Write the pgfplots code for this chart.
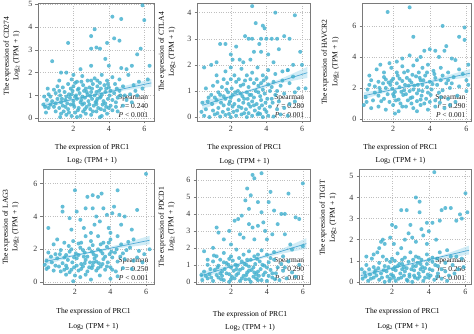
\documentclass[border=0pt]{standalone}
\usepackage{pgfplots}
\usepackage{pgfplotstable}
\pgfplotsset{compat=1.18}
\usepackage{fontspec}
\setmainfont{Liberation Serif}
\definecolor{pt}{HTML}{42B0CE}
\definecolor{ln}{HTML}{4FA9D4}
\definecolor{bd}{HTML}{A9DCEF}
\definecolor{fr}{HTML}{7A7A7A}

\pgfplotstableread{
x y
0.4 0.5
0.6 0.45
1.0 0.3
1.3 0.2
1.6 0.15
1.9 0.1
2.1 0.25
2.4 0.1
2.7 0.2
3.0 0.15
3.3 0.3
3.6 0.1
3.9 0.2
4.2 0.35
4.5 0.3
2.2 0.05
3.5 0.05
0.3 0.6
0.7 0.6
0.9 0.5
1.2 0.45
1.4 0.55
1.7 0.4
1.85 0.6
2.05 0.5
2.3 0.45
2.5 0.6
2.75 0.5
2.95 0.4
3.15 0.55
3.4 0.45
3.65 0.6
3.85 0.5
4.1 0.55
4.4 0.5
4.8 0.55
0.5 0.8
0.8 0.75
1.1 0.85
1.3 0.7
1.55 0.8
1.8 0.9
2.0 0.75
2.2 0.85
2.45 0.8
2.65 0.9
2.85 0.75
3.05 0.85
3.25 0.7
3.5 0.9
3.7 0.75
3.95 0.85
4.2 0.8
4.5 0.9
5.0 0.8
0.6 1.05
1.0 1.1
1.25 1.0
1.5 1.15
1.75 1.05
1.95 1.2
2.15 1.0
2.35 1.1
2.6 1.2
2.8 1.05
3.0 1.15
3.2 1.0
3.45 1.2
3.6 1.05
3.8 1.15
4.05 1.0
4.3 1.1
4.6 1.2
5.2 1.05
5.6 1.0
1.1 1.4
1.4 1.35
1.7 1.5
2.0 1.4
2.3 1.3
2.55 1.45
2.9 1.35
3.1 1.5
3.35 1.4
3.55 1.3
3.75 1.45
4.0 1.35
4.35 1.5
4.8 1.4
5.4 1.45
5.9 1.3
1.2 1.65
1.9 1.7
2.2 1.6
2.5 1.85
2.8 1.65
3.2 1.75
3.6 1.9
3.9 1.65
4.2 1.8
4.6 1.7
5.1 1.9
5.7 1.6
6.2 1.7
2.0 1.9
0.8 2.5
1.7 3.3
3.0 3.6
3.2 3.9
3.0 3.05
3.3 3.1
3.5 3.05
3.9 3.3
4.2 4.45
4.3 3.5
4.7 4.35
4.6 3.4
5.9 4.95
6.0 4.3
5.6 2.8
5.8 3.05
6.3 2.3
5.3 2.3
5.0 2.15
4.7 2.2
1.3 2.0
1.6 2.0
2.4 2.15
3.8 2.6
4.0 2.3
3.0 2.3
1.45 0.3
2.55 0.3
3.75 0.35
1.65 0.65
2.6 0.65
3.3 0.62
2.1 0.95
2.95 0.98
3.35 0.85
1.85 1.3
2.7 1.3
3.5 1.55
0.45 0.25
0.35 0.95
1.55 0.5
1.75 0.25
2.0 0.6
2.25 0.35
2.4 0.7
2.65 0.4
2.9 0.6
3.1 0.3
3.3 0.75
3.55 0.4
3.8 0.65
4.0 0.45
1.6 0.95
1.9 1.05
2.25 1.25
2.5 0.95
2.75 1.15
3.05 1.3
3.3 1.15
3.55 0.95
3.85 1.3
4.1 1.2
4.4 0.7
4.65 1.0
1.35 0.85
1.0 0.65
0.7 0.95
0.55 1.3
0.9 1.25
1.2 1.2
2.1 1.55
2.45 1.6
3.0 1.65
3.35 1.65
3.95 1.5
4.45 1.3
5.3 0.7
5.5 1.2
4.9 1.0
1.25 0.05
}\dA

\pgfplotstableread{
x y
0.5 0.05
0.8 0.0
1.1 0.1
1.4 0.02
1.7 0.08
2.0 0.0
2.3 0.05
2.6 0.1
2.9 0.0
3.2 0.05
3.5 0.1
3.8 0.0
4.1 0.05
4.4 0.02
4.8 0.1
5.2 0.05
1.9 0.12
3.0 0.15
3.65 0.12
0.6 0.3
1.0 0.25
1.3 0.35
1.55 0.2
1.85 0.3
2.1 0.4
2.35 0.25
2.6 0.35
2.85 0.3
3.1 0.4
3.35 0.25
3.6 0.35
3.9 0.3
4.2 0.4
4.6 0.3
5.0 0.35
0.4 0.55
0.7 0.6
0.95 0.5
1.2 0.65
1.45 0.55
1.7 0.7
1.95 0.6
2.2 0.5
2.45 0.65
2.7 0.55
2.95 0.7
3.2 0.6
3.45 0.5
3.7 0.65
3.95 0.55
4.3 0.7
4.7 0.6
5.3 0.5
0.9 0.85
1.3 0.95
1.6 0.8
1.85 0.95
2.1 0.85
2.4 1.0
2.65 0.8
2.9 0.95
3.15 0.85
3.4 1.0
3.65 0.8
3.9 0.9
4.2 1.0
4.5 0.85
5.0 0.9
5.6 0.95
1.0 1.2
1.5 1.15
1.8 1.3
2.05 1.1
2.3 1.35
2.55 1.2
2.8 1.4
3.0 1.15
3.3 1.3
3.55 1.2
3.85 1.4
4.1 1.25
4.4 1.35
4.8 1.2
5.3 1.3
5.8 1.1
6.2 1.1
1.2 1.6
1.7 1.75
2.2 1.6
2.6 1.85
2.9 1.6
3.2 1.7
3.5 1.9
3.8 1.6
4.1 1.8
4.5 1.65
4.9 1.75
5.2 1.8
5.5 1.55
2.0 1.9
3.2 4.25
4.5 4.0
5.6 3.9
4.0 3.0
2.8 3.1
3.0 3.0
3.2 3.0
3.8 3.5
3.9 3.4
4.3 3.0
4.6 3.0
5.0 3.1
5.3 3.0
1.7 2.8
1.4 2.8
2.0 2.4
2.1 2.2
0.5 1.9
0.9 2.0
1.2 2.1
2.5 2.2
2.7 2.1
3.1 2.2
3.7 2.5
4.1 2.4
4.7 2.6
5.5 2.0
5.9 2.5
6.0 2.0
5.2 1.8
3.6 2.8
3.4 3.6
3.7 3.0
2.3 2.7
4.4 2.1
3.3 2.5
1.25 0.15
1.6 0.45
1.9 0.5
2.15 0.2
2.45 0.4
2.75 0.15
3.0 0.5
3.3 0.45
3.55 0.15
3.75 0.45
4.0 0.2
4.35 0.55
1.1 0.75
1.4 0.85
1.75 1.05
2.0 0.75
2.25 0.95
2.55 0.9
2.75 0.7
3.05 0.85
3.3 0.75
3.55 0.95
3.8 1.05
4.05 0.7
4.6 1.0
0.75 0.75
0.6 1.1
1.25 1.35
1.6 1.45
2.0 1.45
2.45 1.45
2.7 1.25
3.1 1.45
3.45 1.45
3.7 1.3
4.0 1.5
4.3 1.15
0.35 0.2
5.6 0.6
4.9 1.4
}\dB

\pgfplotstableread{
x y
0.4 0.9
0.8 0.7
1.2 0.8
1.6 0.6
2.0 0.9
2.3 0.5
2.7 0.8
3.1 0.7
3.5 0.9
3.9 0.6
4.3 0.8
4.8 0.7
5.1 0.9
2.1 0.35
0.5 1.4
0.9 1.2
1.2 1.5
1.5 1.3
1.8 1.1
2.05 1.45
2.3 1.25
2.55 1.55
2.8 1.2
3.05 1.4
3.3 1.15
3.55 1.5
3.8 1.3
4.05 1.55
4.3 1.2
4.6 1.4
5.0 1.3
5.5 1.5
0.6 1.9
1.0 2.1
1.3 1.8
1.6 2.0
1.85 2.2
2.1 1.75
2.35 2.05
2.6 1.85
2.85 2.15
3.1 1.9
3.35 2.2
3.6 1.8
3.85 2.05
4.1 1.9
4.4 2.2
4.7 1.85
5.1 2.0
5.6 2.1
6.0 1.8
0.8 2.5
1.2 2.4
1.5 2.7
1.75 2.35
2.0 2.6
2.25 2.8
2.5 2.45
2.75 2.65
3.0 2.35
3.25 2.75
3.5 2.5
3.75 2.8
4.0 2.4
4.3 2.65
4.6 2.5
4.9 2.3
5.3 2.7
6.0 2.5
5.0 2.5
1.1 3.2
1.5 3.0
1.9 3.3
2.2 3.0
2.5 3.4
2.8 3.1
3.1 3.45
3.4 3.0
3.6 3.3
3.9 3.5
4.2 3.1
4.6 3.3
5.0 3.0
5.6 3.2
6.1 3.5
0.7 2.8
1.7 6.9
2.9 7.2
3.1 5.3
4.7 6.0
5.9 5.9
5.6 5.3
5.9 5.1
4.0 4.5
4.3 4.4
4.9 4.7
4.5 4.0
5.2 3.9
3.7 4.4
2.5 3.9
1.8 3.6
3.3 3.8
2.9 4.1
3.5 4.0
4.8 4.4
5.4 3.8
2.2 3.7
1.3 3.5
2.0 1.6
2.7 1.6
3.3 1.65
1.9 2.45
2.9 2.5
3.6 2.2
2.4 1.0
3.0 1.0
3.7 1.0
1.0 1.7
1.35 1.15
1.45 2.3
1.7 1.6
1.95 1.95
2.2 2.3
2.45 1.75
2.65 2.2
2.9 1.8
3.15 2.15
3.4 1.85
3.65 2.5
3.9 1.7
4.15 2.25
4.5 1.7
1.6 2.55
2.35 2.6
2.6 3.0
3.05 2.85
3.45 2.65
3.85 3.0
4.25 2.9
4.7 2.8
5.2 2.3
5.4 1.1
0.55 1.1
0.7 2.2
1.25 2.0
2.15 1.2
2.5 0.8
2.95 1.35
3.5 1.25
4.0 1.1
4.55 1.05
3.3 0.5
5.8 2.9
6.1 2.2
}\dC

\pgfplotstableread{
x y
1.9 0.05
2.3 0.3
2.9 0.15
3.4 0.4
4.0 0.2
1.5 0.45
2.6 0.45
4.4 0.35
0.4 0.8
0.5 0.9
0.8 0.7
1.1 0.95
1.4 0.75
1.7 0.6
1.95 0.9
2.2 0.7
2.45 0.95
2.7 0.65
2.95 0.85
3.2 0.7
3.45 0.95
3.7 0.75
4.0 0.9
4.3 0.65
4.7 0.85
5.2 0.8
0.4 1.3
0.7 1.2
1.0 1.45
1.3 1.15
1.6 1.35
1.85 1.2
2.1 1.45
2.35 1.1
2.6 1.35
2.85 1.2
3.1 1.45
3.35 1.15
3.6 1.4
3.85 1.2
4.1 1.5
4.4 1.25
4.8 1.4
5.3 1.3
5.8 1.2
0.5 1.8
0.9 1.7
1.2 1.95
1.5 1.65
1.8 2.0
2.05 1.75
2.3 2.1
2.55 1.8
2.8 2.05
3.05 1.7
3.3 2.0
3.55 1.75
3.8 2.15
4.05 1.85
4.35 2.0
4.7 1.75
5.1 2.1
5.6 1.9
6.2 2.0
0.8 2.3
1.0 2.6
1.4 2.4
1.9 2.5
2.6 2.8
3.3 2.8
2.2 2.35
2.9 2.5
3.6 2.4
4.0 2.6
4.4 2.8
5.0 2.45
5.3 2.6
2.9 3.0
4.0 3.0
6.0 6.6
2.0 5.6
3.0 5.3
3.3 5.2
3.5 5.4
4.4 5.6
2.7 5.2
1.3 4.6
1.3 4.3
1.7 3.9
2.3 3.8
3.0 4.5
3.6 4.5
3.8 4.1
4.1 4.2
4.5 4.1
4.8 4.0
5.5 4.4
3.4 3.7
2.5 3.3
0.5 3.3
1.8 3.2
3.1 3.5
3.9 3.3
4.6 3.5
5.2 3.2
2.1 4.3
2.6 4.5
3.2 4.0
4.2 4.6
1.5 1.0
2.5 1.55
3.2 1.25
2.0 0.4
3.0 1.0
1.2 0.65
1.55 0.85
1.8 0.75
2.1 1.0
2.35 0.8
2.55 1.15
2.8 0.9
3.05 1.2
3.3 0.85
3.55 1.1
3.8 0.95
4.1 0.75
0.9 1.0
1.15 1.7
1.4 1.5
1.7 1.85
1.95 1.5
2.2 1.65
2.45 1.95
2.7 1.55
2.95 1.85
3.2 1.6
3.45 1.9
3.7 1.55
3.95 1.7
4.25 1.8
4.55 1.55
4.9 1.95
0.65 1.55
0.3 1.05
1.65 2.2
2.35 2.4
3.0 2.25
3.45 2.3
3.9 2.4
4.6 2.3
5.5 1.5
5.9 1.7
}\dD

\pgfplotstableread{
x y
0.4 0.1
0.7 0.2
1.0 0.05
1.3 0.25
1.6 0.1
1.9 0.0
2.2 0.2
2.5 0.05
2.8 0.15
3.1 0.0
3.4 0.2
3.7 0.1
4.0 0.05
4.3 0.25
4.7 0.1
5.1 0.2
2.05 0.3
3.25 0.3
0.5 0.6
0.8 0.45
1.1 0.7
1.4 0.5
1.65 0.75
1.9 0.45
2.15 0.65
2.4 0.5
2.65 0.8
2.9 0.55
3.15 0.7
3.4 0.45
3.65 0.75
3.9 0.55
4.2 0.7
4.5 0.5
4.9 0.65
5.4 0.55
0.7 1.0
1.0 1.2
1.3 0.95
1.6 1.15
1.85 1.0
2.1 1.25
2.35 0.95
2.6 1.2
2.85 1.0
3.1 1.3
3.35 1.05
3.6 1.2
3.85 0.95
4.1 1.15
4.4 1.3
4.8 1.05
5.2 1.2
5.8 1.0
0.7 1.3
0.5 1.8
1.2 1.5
1.6 1.7
2.0 1.5
2.3 1.9
2.7 1.6
3.0 1.8
3.3 1.5
3.7 1.85
4.0 1.6
4.4 1.75
4.9 1.5
5.4 1.9
1.0 2.0
3.5 1.6
3.2 6.3
3.7 6.4
3.3 6.1
2.9 5.5
3.1 5.1
4.2 5.3
5.2 5.2
6.0 5.8
2.8 4.8
3.5 4.7
4.4 4.2
4.8 4.0
5.0 4.0
3.7 4.1
5.6 3.8
5.8 3.7
3.0 3.4
3.2 3.2
3.5 3.3
2.2 3.6
2.4 3.7
1.2 3.2
1.3 2.9
1.9 3.0
3.9 3.0
4.3 2.8
5.0 2.8
2.0 2.2
2.7 2.6
4.0 2.5
5.3 2.2
6.0 2.1
2.5 2.8
3.3 2.5
3.8 3.5
4.6 3.4
2.6 3.9
1.6 2.5
3.0 4.3
4.1 4.7
1.5 0.35
2.7 0.35
3.55 0.35
2.3 0.75
3.0 0.9
0.6 0.35
0.9 0.25
1.2 0.4
1.45 0.15
1.75 0.5
2.0 0.15
2.3 0.4
2.6 0.2
2.85 0.4
3.0 0.15
3.3 0.55
3.5 0.1
3.8 0.4
4.1 0.35
4.45 0.15
0.85 0.75
1.25 0.85
1.5 0.6
1.75 1.1
2.0 0.85
2.25 1.0
2.5 0.7
2.75 1.05
3.0 0.65
3.25 0.85
3.5 0.6
3.75 1.0
4.0 0.85
4.3 0.5
4.6 0.85
1.4 1.3
1.9 1.35
2.45 1.4
2.9 1.3
3.45 1.35
4.2 1.4
5.0 0.85
5.6 0.3
0.35 0.4
1.05 1.55
}\dE

\pgfplotstableread{
x y
0.4 0.15
0.7 0.05
1.0 0.2
1.3 0.1
1.6 0.0
1.9 0.15
2.2 0.05
2.5 0.2
2.8 0.1
3.1 0.0
3.4 0.15
3.7 0.05
4.0 0.2
4.3 0.1
4.7 0.15
5.0 0.05
1.75 0.25
2.95 0.25
0.5 0.45
0.8 0.35
1.1 0.55
1.4 0.4
1.7 0.5
1.95 0.35
2.2 0.55
2.45 0.4
2.7 0.5
2.95 0.35
3.2 0.55
3.45 0.4
3.7 0.5
3.95 0.35
4.2 0.55
4.5 0.4
4.9 0.5
5.4 0.4
0.6 0.8
1.0 0.7
1.3 0.9
1.6 0.75
1.9 0.95
2.15 0.7
2.4 0.85
2.65 0.7
2.9 0.95
3.15 0.75
3.4 0.9
3.65 0.7
3.9 0.85
4.2 0.95
4.5 0.75
4.9 0.9
5.3 0.8
5.9 0.7
0.9 1.1
1.5 1.2
2.0 1.1
2.3 1.35
2.7 1.15
3.0 1.4
3.3 1.2
3.6 1.05
3.9 1.3
4.2 1.15
4.6 1.4
5.2 1.2
5.8 1.1
1.2 1.4
4.3 5.2
6.0 4.2
3.3 4.0
3.5 3.8
2.5 3.4
2.8 3.4
3.5 3.3
4.7 3.4
4.9 3.5
5.2 3.5
5.7 3.2
6.1 3.3
5.5 2.9
3.9 2.8
4.2 2.8
4.6 2.9
2.0 2.7
2.2 2.6
3.6 2.5
1.5 2.0
1.9 2.1
2.9 2.3
3.1 2.1
3.3 1.9
3.9 1.8
0.6 1.2
1.0 1.3
1.3 1.6
1.6 1.8
2.5 1.6
5.0 1.5
5.5 1.2
2.1 1.8
2.7 2.0
3.7 2.2
4.4 2.0
3.0 2.7
4.0 2.4
5.8 3.0
1.4 1.9
2.1 0.2
3.25 0.2
2.55 0.6
3.55 0.6
0.55 0.25
0.85 0.15
1.15 0.3
1.45 0.2
1.85 0.05
2.05 0.3
2.35 0.15
2.65 0.3
2.85 0.05
3.2 0.3
3.5 0.25
3.8 0.2
4.1 0.3
4.45 0.25
0.75 0.6
1.05 0.45
1.25 0.65
1.55 0.55
1.8 0.7
2.05 0.6
2.3 0.75
2.55 0.85
2.8 0.65
3.05 0.6
3.3 0.75
3.55 0.85
3.8 0.65
4.05 0.6
4.35 0.8
4.7 0.6
5.1 0.3
5.6 0.6
1.7 1.05
2.15 1.0
2.55 1.05
3.15 1.05
3.45 1.15
4.0 1.05
4.45 1.1
0.35 0.6
}\dF

\pgfplotsset{
  pan/.style={
    scale only axis, anchor=south west,
    axis line style={fr, line width=0.5bp},
    tick style={fr, line width=0.5bp},
    major tick length=2.5bp,
    tick align=outside, xtick pos=left, ytick pos=left,
    grid=major, major grid style={dotted, line width=0.5bp, black!25},
    tick label style={font=\fontsize{8}{9}\selectfont, text=black!80},
    xticklabel style={yshift=0.5bp},
    yticklabel style={xshift=0.5bp},
    /pgf/number format/assume math mode=true,
    xtick={2,4,6},
  },
  pts/.style={only marks, mark=*, mark size=2.0bp, color=pt,
    mark options={fill=pt, line width=0pt, draw opacity=0, fill opacity=0.82}},
  band/.style={fill=bd, fill opacity=0.55, draw=none},
  reg/.style={ln, line width=0.7bp},
}
\newcommand{\spear}[1]{\node[anchor=south east, align=right, inner sep=0pt,
  font=\fontsize{7.5}{9}\selectfont, text=black!90] at (rel axis cs:0.95,0.025)
  {Spearman\\\textit{r} = #1\\\textit{P} < 0.001};}
\newcommand{\xl}{\fontsize{7.6}{9}\selectfont}
\newcommand{\yl}{\fontsize{7.6}{9}\selectfont}

\begin{document}
\begin{tikzpicture}
\path[use as bounding box] (0bp,0bp) rectangle (474bp,334bp);

% Panel 1 CD274
\begin{axis}[pan, at={(38bp,213bp)}, width=116bp, height=118bp,
  xmin=0.0, xmax=6.55, ymin=-0.12, ymax=5.05, ytick={0,1,2,3,4,5}]
\addplot[pts] table {\dA};
\addplot[band] coordinates {(0.3,0.40) (1.8,0.74) (3.3,1.00) (4.9,1.22) (6.4,1.38) (6.4,1.72) (4.9,1.42) (3.3,1.08) (1.8,0.86) (0.3,0.70)} -- cycle;
\addplot[reg] coordinates {(0.3,0.55) (6.4,1.55)};
\spear{0.240}
\end{axis}

% Panel 2 CTLA4
\begin{axis}[pan, at={(197bp,213bp)}, width=113bp, height=118bp,
  xmin=0.1, xmax=6.45, ymin=-0.15, ymax=4.37, ytick={0,1,2,3,4}]
\addplot[pts] table {\dB};
\addplot[band] coordinates {(0.4,0.28) (1.85,0.70) (3.3,1.01) (4.8,1.30) (6.3,1.50) (6.3,1.92) (4.8,1.46) (3.3,1.11) (1.85,0.82) (0.4,0.62)} -- cycle;
\addplot[reg] coordinates {(0.4,0.45) (6.3,1.70)};
\spear{0.280}
\end{axis}

% Panel 3 HAVCR2
\begin{axis}[pan, at={(362bp,213bp)}, width=109bp, height=118bp,
  xmin=0.3, xmax=6.25, ymin=-0.13, ymax=7.48, ytick={0,2,4,6}]
\addplot[pts] table {\dC};
\addplot[band] coordinates {(0.4,1.28) (1.85,1.80) (3.3,2.16) (4.75,2.48) (6.2,2.70) (6.2,3.22) (4.75,2.74) (3.3,2.29) (1.85,1.96) (0.4,1.72)} -- cycle;
\addplot[reg] coordinates {(0.4,1.50) (6.2,2.95)};
\spear{0.290}
\end{axis}

% Panel 4 LAG3
\begin{axis}[pan, at={(43bp,50bp)}, width=111bp, height=115bp,
  xmin=0.2, xmax=6.45, ymin=-0.12, ymax=6.9, ytick={0,2,4,6}]
\addplot[pts] table {\dD};
\addplot[band] coordinates {(0.3,1.03) (1.8,1.52) (3.3,1.85) (4.75,2.10) (6.2,2.30) (6.2,2.82) (4.75,2.36) (3.3,1.97) (1.8,1.66) (0.3,1.47)} -- cycle;
\addplot[reg] coordinates {(0.3,1.25) (6.2,2.55)};
\spear{0.250}
\end{axis}

% Panel 5 PDCD1
\begin{axis}[pan, at={(196bp,50bp)}, width=114bp, height=115bp,
  xmin=0.05, xmax=6.4, ymin=-0.13, ymax=6.65, ytick={0,1,2,3,4,5,6}]
\addplot[pts] table {\dE};
\addplot[band] coordinates {(0.3,0.13) (1.8,0.78) (3.3,1.25) (4.75,1.64) (6.2,1.95) (6.2,2.57) (4.75,1.90) (3.3,1.38) (1.8,0.94) (0.3,0.57)} -- cycle;
\addplot[reg] coordinates {(0.3,0.35) (6.2,2.25)};
\spear{0.290}
\end{axis}

% Panel 6 TIGIT
\begin{axis}[pan, at={(359bp,50bp)}, width=112bp, height=115bp,
  xmin=0.2, xmax=6.3, ymin=-0.1, ymax=5.35, ytick={0,1,2,3,4,5}]
\addplot[pts] table {\dF};
\addplot[band] coordinates {(0.3,0.13) (1.8,0.56) (3.3,0.86) (4.75,1.10) (6.2,1.30) (6.2,1.72) (4.75,1.26) (3.3,0.96) (1.8,0.68) (0.3,0.47)} -- cycle;
\addplot[reg] coordinates {(0.3,0.30) (6.2,1.50)};
\spear{0.260}
\end{axis}

% y labels
\node[rotate=90, font=\yl] at (7bp,278bp) {The expression of CD274};
\node[rotate=90, font=\yl] at (16.5bp,278bp) {Log\textsubscript{2} (TPM + 1)};
\node[rotate=90, font=\yl] at (162bp,282bp) {The expression of CTLA4};
\node[rotate=90, font=\yl] at (172bp,282bp) {Log\textsubscript{2} (TPM + 1)};
\node[rotate=90, font=\yl] at (325bp,272bp) {The expression of HAVCR2};
\node[rotate=90, font=\yl] at (335.5bp,272bp) {Log\textsubscript{2} (TPM + 1)};
\node[rotate=90, font=\yl] at (6bp,107bp) {The expression of LAG3};
\node[rotate=90, font=\yl] at (15.5bp,107bp) {Log\textsubscript{2} (TPM + 1)};
\node[rotate=90, font=\yl] at (162bp,107bp) {The expression of PDCD1};
\node[rotate=90, font=\yl] at (171.5bp,107bp) {Log\textsubscript{2} (TPM + 1)};
\node[rotate=90, font=\yl] at (323bp,116bp) {The expression of TIGIT};
\node[rotate=90, font=\yl] at (333bp,116bp) {Log\textsubscript{2} (TPM + 1)};

% x labels
\node[font=\xl] at (92bp,186bp) {The expression of PRC1};
\node[font=\xl] at (92bp,173bp) {Log\textsubscript{2} (TPM + 1)};
\node[font=\xl] at (244.5bp,186bp) {The expression of PRC1};
\node[font=\xl] at (244.5bp,172bp) {Log\textsubscript{2} (TPM + 1)};
\node[font=\xl] at (400.5bp,186bp) {The expression of PRC1};
\node[font=\xl] at (400.5bp,173bp) {Log\textsubscript{2} (TPM + 1)};
\node[font=\xl] at (93.5bp,22bp) {The expression of PRC1};
\node[font=\xl] at (93.5bp,7.5bp) {Log\textsubscript{2} (TPM + 1)};
\node[font=\xl] at (250bp,19bp) {The expression of PRC1};
\node[font=\xl] at (250bp,6.5bp) {Log\textsubscript{2} (TPM + 1)};
\node[font=\xl] at (402.5bp,22bp) {The expression of PRC1};
\node[font=\xl] at (402.5bp,7.5bp) {Log\textsubscript{2} (TPM + 1)};
\end{tikzpicture}
\end{document}
